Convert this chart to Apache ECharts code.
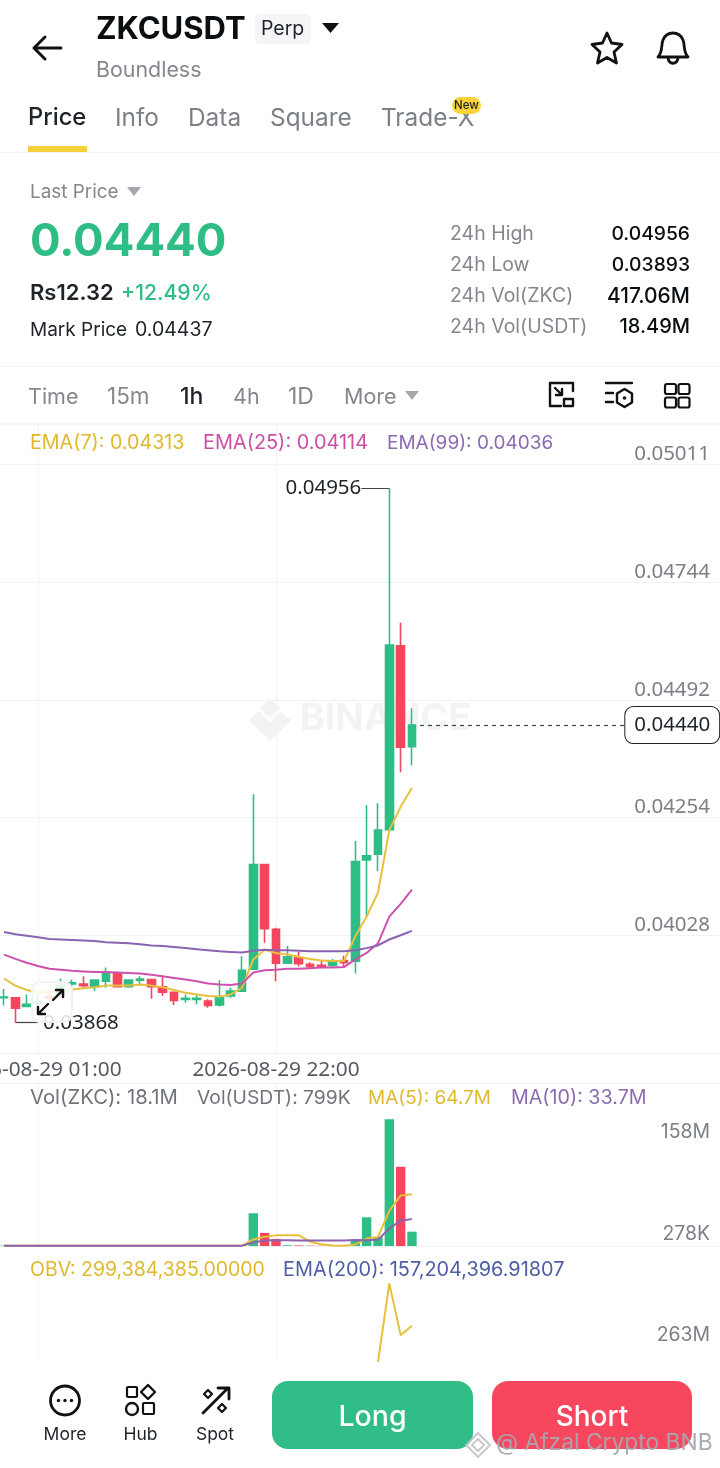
<!DOCTYPE html>
<html><head><meta charset="utf-8">
<style>html,body{margin:0;padding:0;background:#fff}#c{width:720px;height:1468px}</style>
<script src="https://cdn.jsdelivr.net/npm/echarts@6/dist/echarts.min.js"></script>
</head><body><div id="c"></div>
<script>
const categories = ['08-28 22:00','08-28 23:00','08-29 00:00','2026-08-29 01:00','08-29 02:00','08-29 03:00','08-29 04:00','08-29 05:00','08-29 06:00','08-29 07:00','08-29 08:00','08-29 09:00','08-29 10:00','08-29 11:00','08-29 12:00','08-29 13:00','08-29 14:00','08-29 15:00','08-29 16:00','08-29 17:00','08-29 18:00','08-29 19:00','08-29 20:00','08-29 21:00','2026-08-29 22:00','08-29 23:00','08-30 00:00','08-30 01:00','08-30 02:00','08-30 03:00','08-30 04:00','08-30 05:00','08-30 06:00','08-30 07:00','08-30 08:00','08-30 09:00','08-30 10:00'];
// open, close, low, high
const candles = [
[.03913,.03914,.03899,.03929],[.03913,.03894,.03868,.03914],[.03897,.03901,.03897,.03919],[.03904,.03906,.03896,.03919],[.03915,.03913,.03905,.03923],[.03919,.03935,.03919,.03948],[.03938,.03940,.03932,.03946],[.03938,.03935,.03931,.03952],[.03933,.03945,.03925,.03946],[.03943,.03957,.03931,.03968],
[.03957,.03933,.03932,.03958],[.03933,.03945,.03931,.03946],[.03945,.03947,.03935,.03952],[.03946,.03933,.03911,.03946],[.03933,.03923,.03916,.03952],[.03923,.03908,.03900,.03923],[.03910,.03912,.03904,.03919],[.03910,.03912,.03901,.03920],[.03907,.03899,.03895,.03910],[.03900,.03913,.03897,.03945],
[.03916,.03925,.03913,.03931],[.03925,.03963,.03925,.03989],[.03965,.04162,.03964,.04300],[.04162,.04040,.04014,.04162],[.04039,.03976,.03943,.04042],[.03976,.03988,.03976,.04008],[.03986,.03975,.03970,.03997],[.03974,.03970,.03967,.03978],[.03972,.03969,.03967,.03981],[.03972,.03980,.03968,.03984],
[.03981,.03977,.03970,.03990],[.03980,.04168,.03957,.04208],[.04171,.04179,.04063,.04278],[.04182,.04229,.04149,.04282],[.04230,.04608,.04229,.04956],[.04606,.04395,.04344,.04656],[.04396,.04440,.04358,.04475]];
const ema7 = [.03948,.03935,.03927,.03923,.03923,.03927,.03928,.03930,.03932,.03935,.03935,.03935,.03937,.03935,.03932,.03927,.03922,.03919,.03916,.03915,.03919,.03931,.03983,.04001,.03995,.03992,.03988,.03984,.03981,.03980,.03980,.04026,.04063,.04108,.04229,.04275,.04313];
const ema25 = [.03992,.03984,.03977,.03971,.03966,.03964,.03962,.03961,.03960,.03960,.03959,.03958,.03957,.03955,.03952,.03949,.03946,.03943,.03939,.03937,.03936,.03939,.03959,.03963,.03964,.03966,.03966,.03967,.03968,.03968,.03969,.03983,.03995,.04013,.04063,.04087,.04114];
const ema99 = [.04034,.04030,.04027,.04024,.04021,.04020,.04019,.04018,.04017,.04015,.04014,.04013,.04011,.04009,.04008,.04006,.04004,.04002,.04000,.03998,.03997,.03996,.03999,.04001,.04000,.04000,.03999,.03998,.03998,.03998,.03998,.04000,.04004,.04009,.04020,.04028,.04036];
const volumeM = [.8,.9,.6,.5,.5,.7,.5,.4,.5,.8,.7,.5,.4,.6,.6,.7,.4,.4,.5,.8,.6,1.2,41,16.6,9.1,1.2,1,.7,.6,.6,.8,7.9,36,11.2,158,98.8,18.1];
const volumeMA5 = [.6,.6,.6,.6,.6,.6,.6,.6,.6,.6,.6,.6,.6,.6,.6,.6,.6,.6,.6,.6,.6,.7,8.4,11.7,13.5,13.7,13.7,5.6,2.4,.8,.7,2.2,9.6,11.4,44,63,64.7];
const volumeMA10 = [.6,.6,.6,.6,.6,.6,.6,.6,.6,.6,.6,.6,.6,.6,.6,.6,.6,.6,.6,.6,.6,.7,4.6,7,7.4,7.4,7.2,7.2,7.1,7,7.1,7.7,7.4,8,22,31.9,33.7];
const obvM = [null,null,null,null,null,null,null,null,null,null,null,null,null,null,null,null,null,null,null,null,null,null,null,null,null,null,null,null,null,null,null,null,null,229,380.8,281.3,299.4];
const priceTicks = [.05011,.04744,.04492,.04254,.04028];
const volumeTicks = [.278,158];
const obvTicks = [263];
const lastPrice = .0444, highPrice = .04956, lowPrice = .03868;
const timeLabelIndexes = [3,24];
const emptySlotsRight = 27;

const GREEN='#2EBD85', RED='#F6465D', FONT='Inter, "Noto Sans", sans-serif', NUMFONT='"Noto Sans", sans-serif';
const YEL='#E8C03F', PINK='#CF51AE', PUR='#8A63B1';
const lastTick = categories.length - 1;
const axisCategories = categories.concat(new Array(emptySlotsRight).fill(''));
const isTime = i => timeLabelIndexes.includes(i);

let pathCount = 0;
function T(text,x,y,size,color,weight,align,z){return {type:'text',z:z||20,style:{text,x,y:y+1.3,fontSize:size,fill:color||'#1E2329',fontWeight:weight||400,fontFamily:FONT,textAlign:align||'left',textVerticalAlign:'middle'}};}
function P(d,opt){opt=opt||{};const name='iconPath'+(pathCount++);echarts.graphic.registerShape(name,echarts.graphic.extendPath(d,{}));
 return {type:name,z:opt.z||20,style:{fill:opt.fill||'none',stroke:opt.stroke===undefined?'#111':opt.stroke,lineWidth:opt.w||2.4,lineJoin:'round',lineCap:'round'}};}
function R(x,y,w,h,fill,r,z,stroke){return {type:'rect',z:z||19,shape:{x,y,width:w,height:h,r:r||0},style:{fill,stroke:stroke||null,lineWidth:2.2}};}

const G='#84878D';
const graphics = [
 R(0,0,720,424,'#fff',0,18),
 T('ZKCUSDT',96,28,31,'#0B0E11',700),
 R(255,14,56,30,'#F4F5F6',5), T('Perp',261,28,19.5,'#1E2329',400),
 P('M322 23H339L330.5 33Z',{fill:'#111',stroke:null}),
 T('Boundless',96,69,21.4,G),
 P('M61 48H34M45 37L34 48L45 59',{w:3}),
 P('M607 33L611.5 43L622 44.5L614 52L616.5 63L607 57.5L597.5 63L600 52L592 44.5L602.5 43Z',{w:2.8}),
 P('M658 57C663 52 661 44 663 40C665 35 669 33 673 33C677 33 681 35 683 40C685 44 683 52 688 57ZM668 58C669 65 677 65 678 58',{w:2.8}),
 T('Price',28,117,23.7,'#1E2329',500), T('Info',115,117,24.4,'#7B7F86'), T('Data',188,117,24.4,'#7B7F86'), T('Square',270,117,24.4,'#7B7F86'), T('Trade-X',381,117,24.4,'#7B7F86'),
 R(452,97,29,17,'#F8D33A',8.5,21), T('New',466.5,104.5,11.5,'#1E2329',500,'center',22),
 R(28,146,59,6,'#F5CF3C',0,20), R(0,152,720,1,'#EEF0F2',0,20),
 T('Last Price',30,191,18.9,G), P('M127 187H141L134 196Z',{fill:'#A4A7AC',stroke:null}),
 T('0.04440',30,241.5,45.4,GREEN,700),
 T('Rs12.32',30,292,22,'#1E2329',600), T('+12.49%',121,292,21.2,GREEN,500),
 T('Mark Price',30,329,19,'#1E2329'), T('0.04437',135,329,19.5,'#1E2329'),
 T('24h High',450,233,19.5,G), T('24h Low',450,264,19.5,G), T('24h Vol(ZKC)',450,295,19.5,G), T('24h Vol(USDT)',450,326,19.5,G),
 T('0.04956',690,233,19.3,'#0B0E11',500,'right'), T('0.03893',690,264,19.3,'#0B0E11',500,'right'), T('417.06M',690,295,21,'#0B0E11',500,'right'), T('18.49M',690,326,20,'#0B0E11',500,'right'),
 R(0,366,720,1,'#EEF0F2',0,20),
 T('Time',28,396,21.5,G), T('15m',107,396,22.5,G), T('1h',180,396,23,'#1E2329',500), T('4h',233,396,21.5,G), T('1D',288,396,23,G), T('More',344,396,21.5,G),
 P('M405 391H419L412 400Z',{fill:'#A4A7AC',stroke:null}),
 P('M573 391V383H550V406H561M564 399H573V406H564ZM555 388L562 395M562 389V395H556',{w:2.4}),
 P('M606 383H632M606 393H613M606 402H613',{w:2.4}),
 P('M624.5 389L632 393.5V402.5L624.5 407L617 402.5V393.5Z',{w:2.4}), {type:'circle',z:20,shape:{cx:624.5,cy:398,r:1.8},style:{fill:'#111'}},
 R(665,384,11,10,'none',2,20,'#111'), R(678.5,384,11,10,'none',2,20,'#111'), R(665,397.5,11,10,'none',2,20,'#111'), R(678.5,397.5,11,10,'none',2,20,'#111'),
 R(0,423,720,2,'#F2F3F5',0,20),
 T('EMA(7): 0.04313',30,442,19.7,'#E0B82E'), T('EMA(25): 0.04114',203,442,19.9,'#CC4FA6'), T('EMA(99): 0.04036',387,442,19,'#8D6BB0'),
 // watermark
 {type:'text',z:0,style:{text:'BINANCE',x:300,y:719,fontSize:37.5,fontWeight:700,fill:'#F2F3F4',fontFamily:FONT,textVerticalAlign:'middle'}},
 P('M270 698L280 708L270 718L260 708ZM270 722L280 712L291 720L270 741L249 720L259 711Z',{z:0.5,fill:'#F2F3F4',stroke:null}),
 // zoom button
 R(32,982,40,40,'rgba(255,255,255,.84)',8,15,'rgba(240,241,243,.9)'),
 P('M38 1014L48 1004M38 1007V1014H45M53 1000L63 990M56 990H63V997',{z:16,w:2.4}),
 R(0,1083,720,1,'#EEF0F2',0,20),
 T('Vol(ZKC): 18.1M',30,1097,20.3,'#6F737A'), T('Vol(USDT): 799K',197,1097,19.3,'#6F737A'), T('MA(5): 64.7M',368,1097,19,'#E0B82E'), T('MA(10): 33.7M',511,1097,19.7,'#8D6BB0'),
 T('OBV: 299,384,385.00000',30,1269,19.5,'#E0B82E'), T('EMA(200): 157,204,396.91807',283,1269,19.9,'#4F5DA6'),
 // bottom bar
 R(0,1362,720,106,'#fff',0,30),
 P('M65 1386a14.5 14.5 0 1 0 .01 0Z',{z:31,w:2.8}),
 {type:'circle',z:31,shape:{cx:58.5,cy:1400.5,r:1.7},style:{fill:'#111'}},{type:'circle',z:31,shape:{cx:65,cy:1400.5,r:1.7},style:{fill:'#111'}},{type:'circle',z:31,shape:{cx:71.5,cy:1400.5,r:1.7},style:{fill:'#111'}},
 R(127,1387,10,10,'none',1,31,'#111'), P('M148 1385L155 1392L148 1399L141 1392Z',{z:31,w:2.4}),
 P('M132 1403a6 6 0 1 0 .01 0Z',{z:31,w:2.4}), R(143,1403,11,11,'none',1,31,'#111'),
 P('M203 1413L228 1388M218 1388H229V1399',{z:31,w:2.8}),
 P('M208 1390L212 1394L208 1398L204 1394ZM222 1404L226 1408L222 1412L218 1408Z',{z:31,w:2.2}),
 T('More',65,1433,17.5,'#1E2329',400,'center',31), T('Hub',140.5,1433,17.5,'#1E2329',400,'center',31), T('Spot',215,1433,17.5,'#1E2329',400,'center',31),
 R(272,1381,201,68,'#30BD87',16,31), R(492,1381,200,68,'#F7475E',16,31),
 T('Long',372.5,1416,28.5,'#fff',500,'center',32), T('Short',592,1416,28,'#fff',500,'center',32),
 T('@ Afzal Crypto BNB',496,1442,22.8,'rgba(165,168,175,.95)',400,'left',33),
 P('M478 1433L490 1445L478 1457L466 1445ZM478 1439L484 1445L478 1451L472 1445Z',{z:33,w:2,stroke:'rgba(190,192,198,.85)'}),
];

const splitX = {show:true,alignWithLabel:true,interval:(i)=>isTime(i),lineStyle:{color:'#F2F3F5',width:1}};
const xBase = {type:'category',data:axisCategories,boundaryGap:true,axisTick:{show:false},splitLine:splitX};
const pline = (name,data,color,x,y,w) => ({name,type:'line',data,xAxisIndex:x,yAxisIndex:y,symbol:'none',silent:true,animation:false,lineStyle:{color,width:w||2},z:4,connectNulls:false});
const gridBase = {left:-1.67,width:725.3,outerBoundsMode:'none',containLabel:false};

const option = {
 animation:false, backgroundColor:'#fff', textStyle:{fontFamily:FONT},
 graphic:{elements:graphics},
 grid:[
  Object.assign({},gridBase,{top:424,height:629}),
  Object.assign({},gridBase,{top:1083,height:163}),
  Object.assign({},gridBase,{top:1258,height:104})
 ],
 xAxis:[
  Object.assign({},xBase,{gridIndex:0,axisLine:{show:true,lineStyle:{color:'#EEF0F2'}},axisLabel:{interval:(i)=>isTime(i),color:'#555A61',fontFamily:NUMFONT,fontSize:20.8,margin:7,hideOverlap:false}}),
  Object.assign({},xBase,{gridIndex:1,axisLine:{show:true,lineStyle:{color:'#EEF0F2'}},axisLabel:{show:false}}),
  Object.assign({},xBase,{gridIndex:2,axisLine:{show:false},axisLabel:{show:false}})
 ],
 yAxis:[
  {type:'log',gridIndex:0,position:'right',min:.03814,max:.05105,axisLine:{show:false},axisTick:{show:false,customValues:priceTicks},
   axisLabel:{inside:true,customValues:priceTicks,margin:13.6,color:'#7B7F86',formatter:v=>`{p|${v.toFixed(5)}}`,
    rich:{p:{color:'#7B7F86',fontFamily:NUMFONT,fontSize:20.5,padding:[0,0,20,0]}}},
   splitLine:{show:true,lineStyle:{color:'#F1F2F4',width:1}}},
  {type:'value',gridIndex:1,position:'right',min:.278,max:203,axisLine:{show:false},axisTick:{show:false,customValues:volumeTicks},splitLine:{show:false},
   axisLabel:{inside:true,customValues:volumeTicks,margin:13.6,color:'#7B7F86',fontSize:19.4,
    formatter:v=>v>=1?`{top|${v}M}`:`{bot|${Math.round(v*1000)}K}`,
    rich:{top:{color:'#7B7F86',fontSize:19.4,padding:[26,0,0,0]},bot:{color:'#7B7F86',fontSize:19.4,padding:[0,0,24,0]}}}},
  {type:'value',gridIndex:2,position:'right',min:229.6,max:429.6,axisLine:{show:false},axisTick:{show:false,customValues:obvTicks},splitLine:{show:false},
   axisLabel:{inside:true,customValues:obvTicks,margin:13.6,color:'#7B7F86',fontSize:19.4,verticalAlign:'bottom',formatter:v=>v+'M'}}
 ],
 series:[
  {type:'candlestick',name:'ZKCUSDT',xAxisIndex:0,yAxisIndex:0,data:candles,barWidth:8,z:3,silent:true,
   itemStyle:{color:GREEN,color0:RED,borderColor:GREEN,borderColor0:RED,borderWidth:1.6},
   markLine:{silent:true,symbol:'none',animation:false,z:2,precision:5,
    data:[
     [{coord:[lastTick,lastPrice],lineStyle:{color:'#444',type:[4,4],width:1.2},
       label:{show:true,position:'end',distance:-2,formatter:lastPrice.toFixed(5),color:'#1E2329',fontFamily:NUMFONT,fontSize:20.5,backgroundColor:'#fff',borderColor:'#222',borderWidth:1,borderRadius:8,padding:[8,9,7,9]}},
      {coord:[55,lastPrice]}],
     [{coord:[34,highPrice],lineStyle:{color:'#444',type:'solid',width:1.2},
       label:{show:true,position:'end',distance:-6,formatter:highPrice.toFixed(5),color:'#1E2329',fontFamily:NUMFONT,fontSize:20.5,backgroundColor:'#fff'}},
      {coord:[31,highPrice]}],
     [{coord:[1,lowPrice],lineStyle:{color:'#444',type:'solid',width:1.2},
       label:{show:true,position:'end',distance:5,formatter:lowPrice.toFixed(5),color:'#1E2329',fontFamily:NUMFONT,fontSize:20.5}},
      {coord:[3,lowPrice]}]
    ]}},
  pline('EMA(7)',ema7,YEL,0,0), pline('EMA(25)',ema25,PINK,0,0), pline('EMA(99)',ema99,PUR,0,0),
  {type:'bar',name:'Vol',xAxisIndex:1,yAxisIndex:1,barWidth:9.4,silent:true,z:3,
   data:volumeM.map((v,i)=>({value:v,itemStyle:{color:candles[i][1]>=candles[i][0]?GREEN:RED}}))},
  pline('MA(5)',volumeMA5,'#E9BE3A',1,1), pline('MA(10)',volumeMA10,PUR,1,1),
  pline('OBV',obvM,YEL,2,2)
 ]
};
const chart = echarts.init(document.getElementById('c'),null,{renderer:'canvas',width:720,height:1468});
chart.setOption(option);
</script></body></html>
